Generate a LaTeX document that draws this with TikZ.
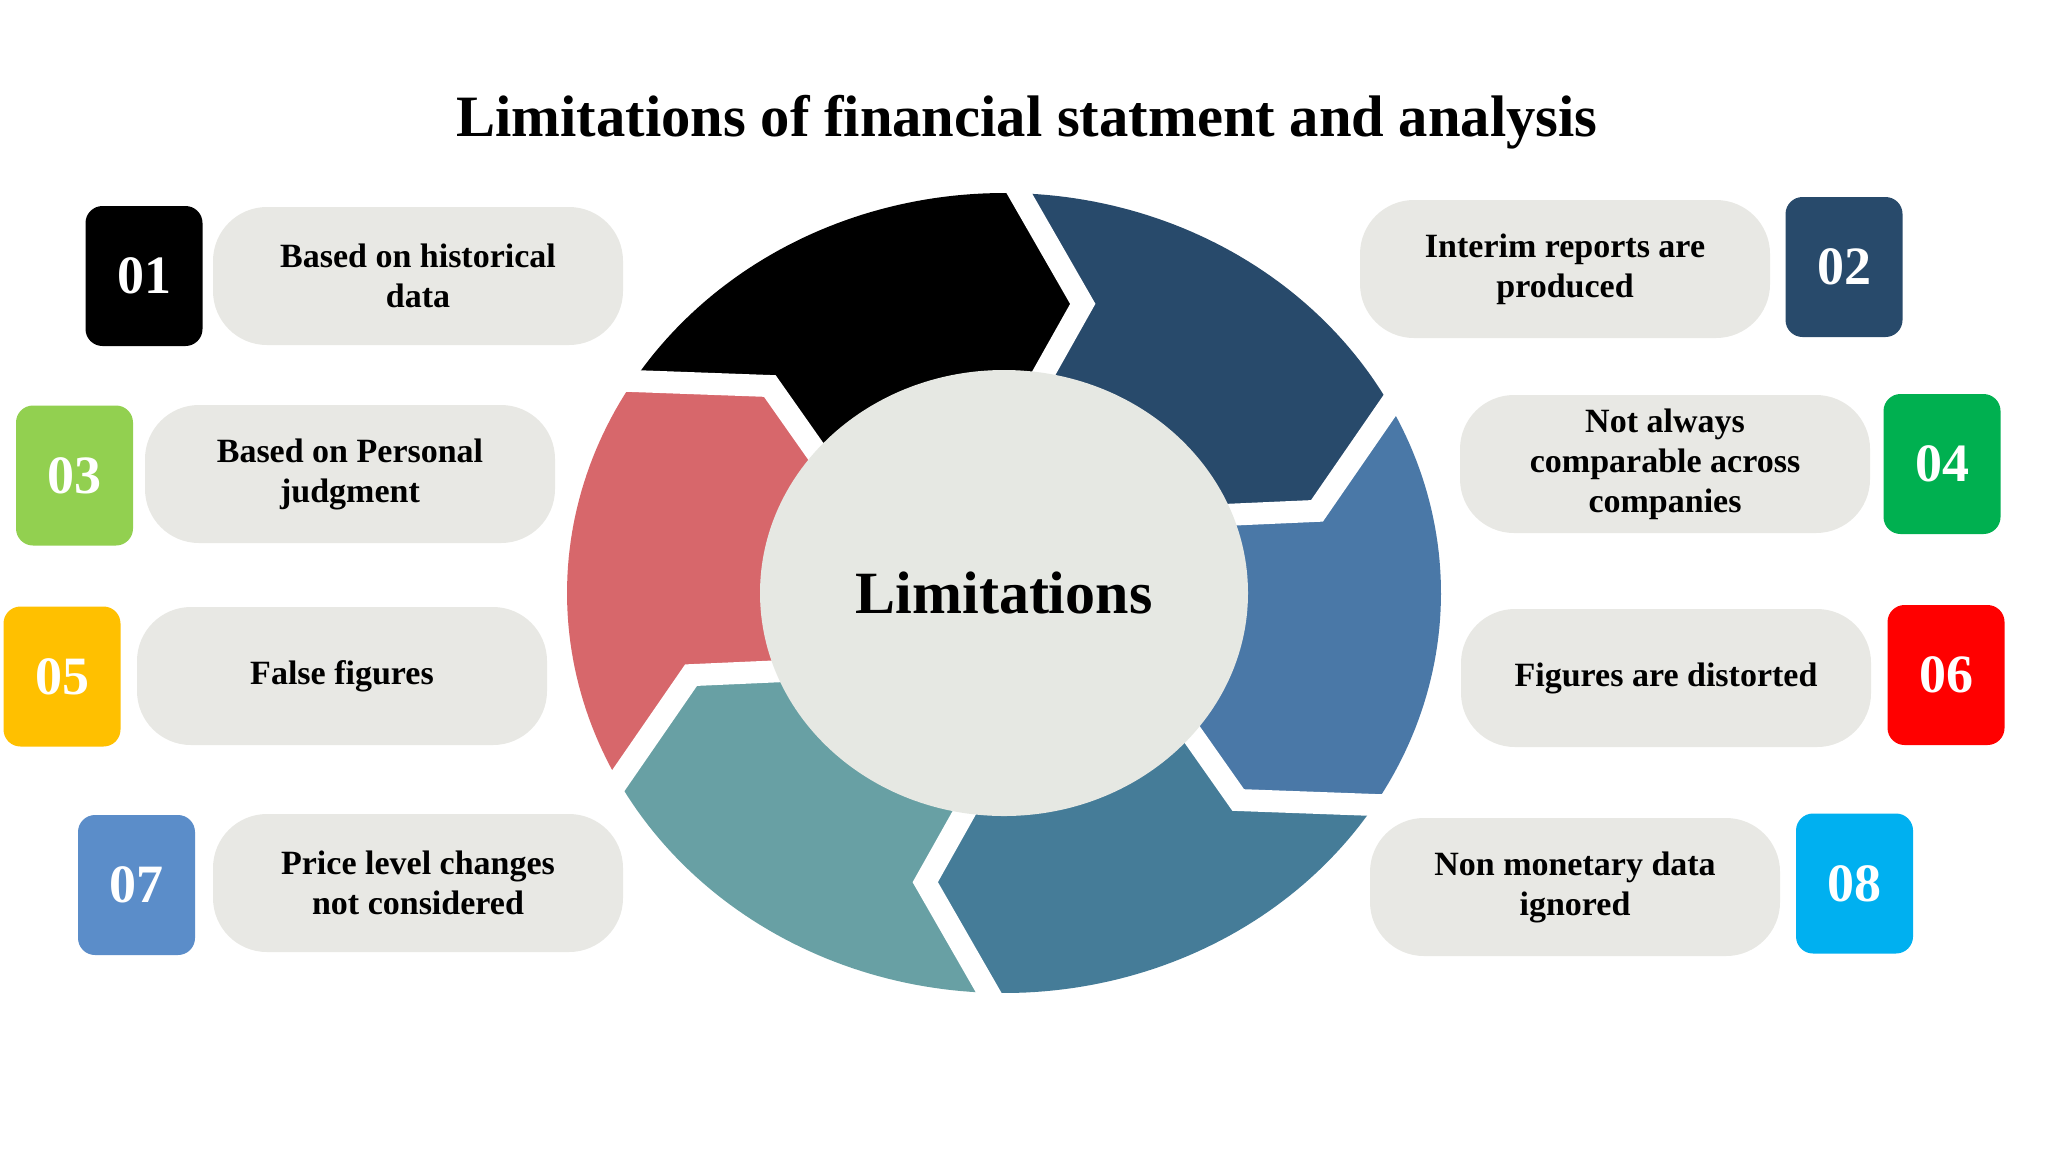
\documentclass[tikz,border=0pt]{standalone}
\usepackage{fontspec}
\setmainfont{Liberation Serif}
\usetikzlibrary{calc,shapes.geometric}
\definecolor{segblack}{HTML}{000000}
\definecolor{segnavy}{HTML}{284A6B}
\definecolor{segsteel}{HTML}{4A78A7}
\definecolor{segdeep}{HTML}{457C98}
\definecolor{segteal}{HTML}{68A0A4}
\definecolor{segred}{HTML}{D7676B}
\definecolor{boxgray}{HTML}{E8E8E4}
\definecolor{centergray}{HTML}{E6E8E3}
\definecolor{cgreenlight}{HTML}{92D050}
\definecolor{cgreen}{HTML}{00B050}
\definecolor{cyellow}{HTML}{FFC000}
\definecolor{cred}{HTML}{FF0000}
\definecolor{cblue}{HTML}{5B8DC9}
\definecolor{ccyan}{HTML}{00B0F0}
\begin{document}
\begin{tikzpicture}[x=0.5pt,y=-0.5pt,
  numbox/.style={rounded corners=8.5pt, minimum width=58.5pt, minimum height=70pt,
    text=white, inner sep=0pt, font=\bfseries\fontsize{27}{30}\selectfont},
  txtbox/.style={fill=boxgray, rounded corners=27pt, minimum width=205pt, minimum height=69pt,
    align=center, inner sep=0pt, text=black, font=\bfseries\fontsize{17}{20}\selectfont},
  gapline/.style={white, line width=11pt, line join=miter}]
\useasboundingbox (0,0) rectangle (2048,1152);
\fill[white] (0,0) rectangle (2048,1152);

\node[font=\bfseries\fontsize{29.3}{34}\selectfont] (title) at (1027,122)
  {Limitations of financial statment and analysis};

% ring
\begin{scope}[shift={(1004,593)}, x={(218.5pt,0pt)}, y={(0pt,200pt)}]
  \foreach \a/\c in {148/segblack, 88/segnavy, 28/segsteel, -32/segdeep, -92/segteal, -152/segred}{
    \pgfmathsetmacro\b{\a-60}
    \pgfmathsetmacro\ta{\a-12}
    \pgfmathsetmacro\tb{\b-12}
    \fill[\c] (\a:1) -- plot[domain=\a:\b, samples=50] (\x:1) -- (\tb:0.745) -- (\b:0.42)
      -- plot[domain=\b:\a, samples=30] (\x:0.42) -- (\ta:0.745) -- cycle;
  }
  \foreach \t in {88,28,-32,-92,-152,148}{
    \pgfmathsetmacro\tt{\t-12}
    \coordinate (tip) at (\tt:0.745);
    \coordinate (out) at (\t:1);
    \coordinate (inn) at (\t:0.4);
    \draw[gapline] ($(tip)!1.25!(out)$) -- (tip) -- (inn);
  }
\end{scope}

\node[ellipse, fill=centergray, minimum width=244pt, minimum height=223pt, inner sep=0pt,
  font=\bfseries\fontsize{30}{34}\selectfont] (center) at (1004,593) {Limitations};

% number boxes
\node[numbox, fill=segblack] (n1) at (144,276) {01};
\node[numbox, fill=segnavy] (n2) at (1844,267) {02};
\node[numbox, fill=cgreenlight] (n3) at (74.5,475.5) {03};
\node[numbox, fill=cgreen] (n4) at (1942,464) {04};
\node[numbox, fill=cyellow] (n5) at (62,676.5) {05};
\node[numbox, fill=cred] (n6) at (1946,675) {06};
\node[numbox, fill=cblue] (n7) at (136.5,885) {07};
\node[numbox, fill=ccyan] (n8) at (1854.5,883.5) {08};

% text boxes
\node[txtbox] (t1) at (418,276) {Based on historical\\data};
\node[txtbox] (t2) at (1565,269) {Interim reports are\\produced};
\node[txtbox] (t3) at (350,474) {Based on Personal\\judgment};
\node[txtbox] (t4) at (1665,464) {Not always\\comparable across\\companies};
\node[txtbox] (t5) at (342,676) {False figures};
\node[txtbox] (t6) at (1666,678) {Figures are distorted};
\node[txtbox] (t7) at (418,883) {Price level changes\\not considered};
\node[txtbox] (t8) at (1575,887) {Non monetary data\\ignored};
\end{tikzpicture}
\end{document}
